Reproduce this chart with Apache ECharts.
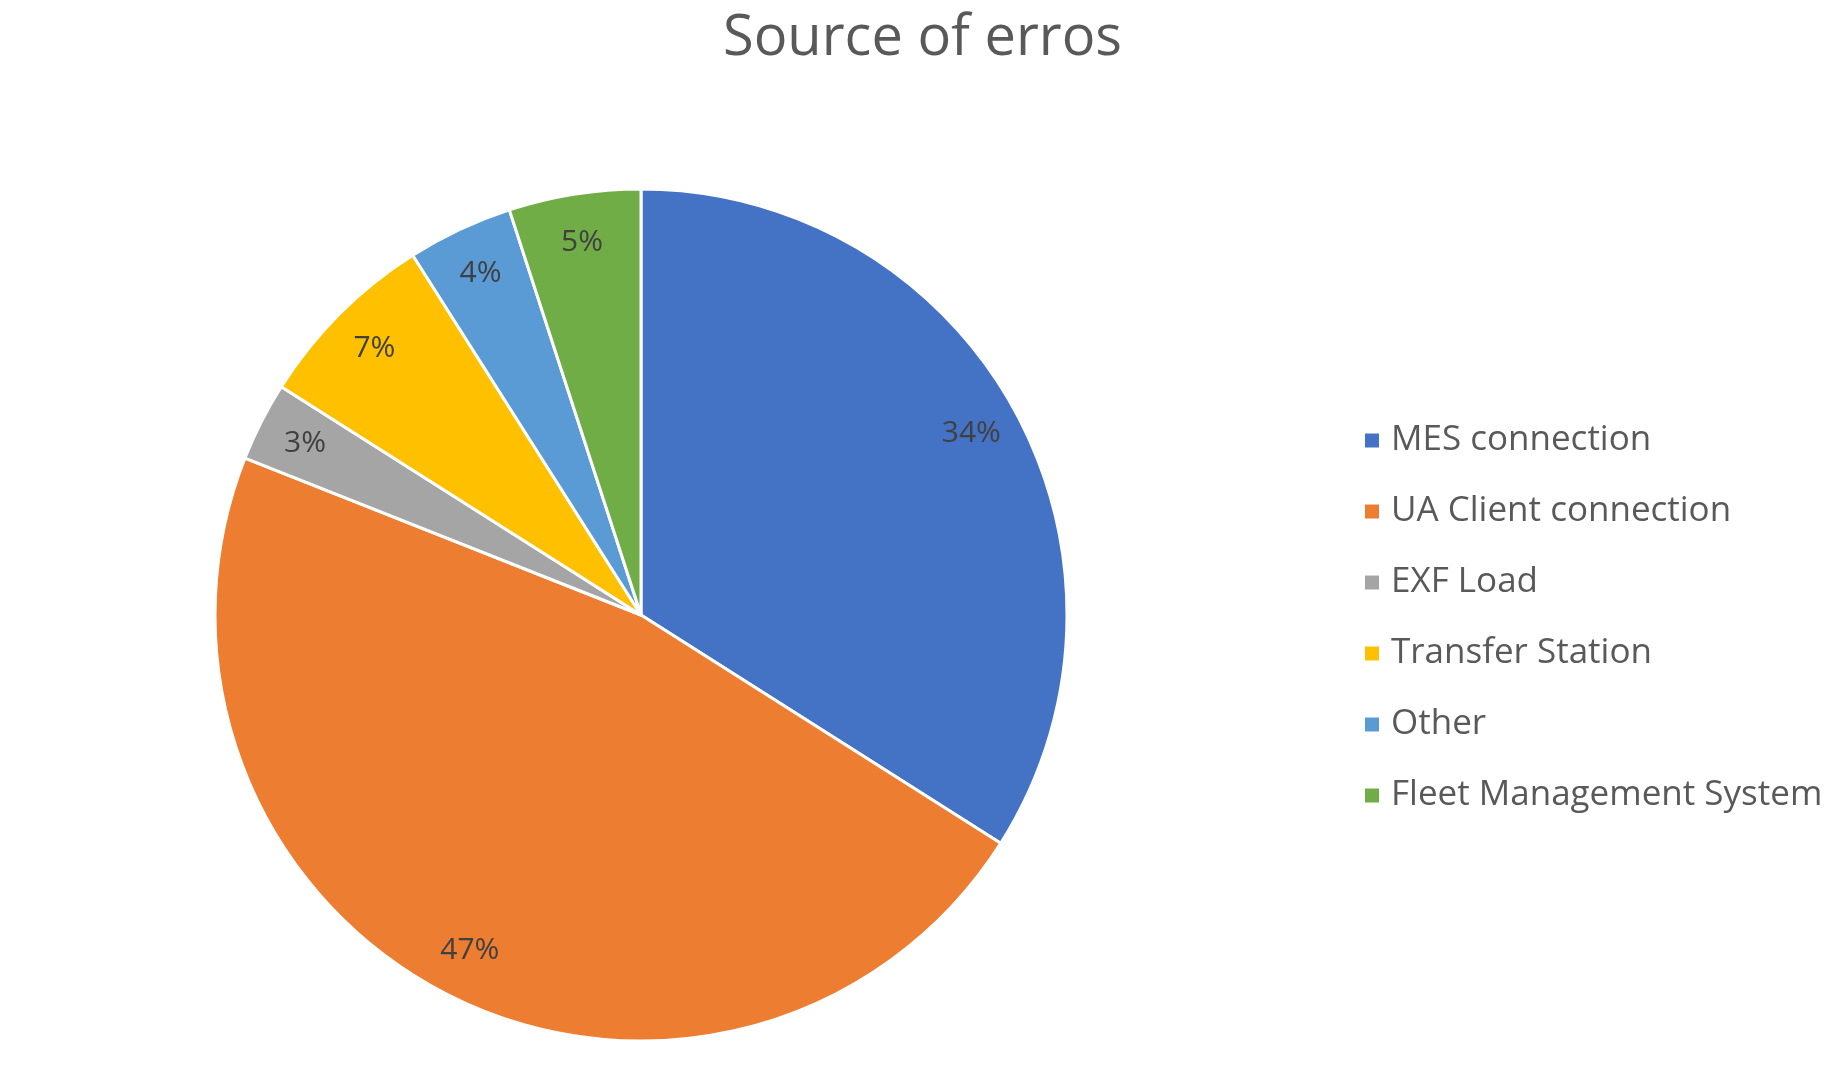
<!DOCTYPE html>
<html><head><meta charset="utf-8">
<script src="https://cdn.jsdelivr.net/npm/echarts@6/dist/echarts.min.js"></script>
<style>html,body{margin:0;background:#fff}#c{width:1845px;height:1088px}</style>
</head><body><div id="c"></div>
<script>
const categories=['MES connection','UA Client connection','EXF Load','Transfer Station','Other','Fleet Management System'];
const values=[34,47,3,7,4,5];
const colors=['#4472C4','#ED7D31','#A5A5A5','#FFC000','#5B9BD5','#70AD47'];
const data=categories.map((n,i)=>({name:n,value:values[i],itemStyle:{color:colors[i]}}));
const center=[641,615];
const chart=echarts.init(document.getElementById('c'));
chart.setOption({
  title:{text:'Source of erros',left:'center',top:6,textStyle:{fontFamily:'Open Sans',fontSize:56,fontWeight:'normal',color:'#595959'}},
  legend:{orient:'vertical',left:1358,top:418,itemWidth:16,itemHeight:16,itemGap:36,icon:'rect',
    textStyle:{fontFamily:'Open Sans',fontSize:35,color:'#595959',padding:[0,0,0,6]},data:categories},
  series:[
    {type:'pie',center:center,radius:426,startAngle:90,clockwise:true,data:data,
     itemStyle:{borderColor:'#fff',borderWidth:3},label:{show:false},labelLine:{show:false},emphasis:{disabled:true}},
    {type:'pie',center:center,radius:[322,426],startAngle:90,clockwise:true,silent:true,legendHoverLink:false,
     data:data.map(d=>({name:d.name,value:d.value,itemStyle:{color:'transparent'}})),
     label:{show:true,position:'inside',formatter:'{d}%',fontFamily:'Open Sans',fontSize:30,color:'#404040'},
     labelLine:{show:false},emphasis:{disabled:true}}
  ]
});
</script></body></html>
